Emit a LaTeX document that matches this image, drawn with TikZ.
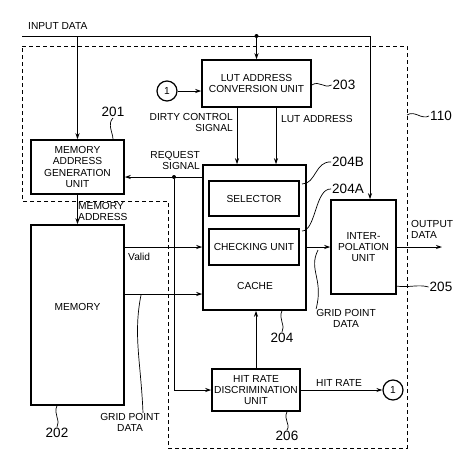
\documentclass[tikz,border=0pt]{standalone}
\usepackage{fontspec}
\setmainfont{Liberation Sans}
\usetikzlibrary{arrows.meta,positioning}

\begin{document}
\begin{tikzpicture}[
            x=1pt, y=-1pt,
            box/.style={rectangle, draw, line width=1.5pt, align=center, inner sep=1pt, font=\fontsize{10.2}{11.3}\selectfont},
            arrow/.style={-{Stealth[length=6pt,width=4pt]}, line width=1pt},
            sig/.style={font=\fontsize{10.2}{11.3}\selectfont, inner sep=0pt, align=left},
            tag/.style={font=\fontsize{13.5}{15}\selectfont, inner sep=1pt},
            leader/.style={line width=0.7pt},
            conn/.style={circle, draw, line width=1.2pt, minimum size=20pt, inner sep=0pt, font=\fontsize{10.2}{11.3}\selectfont},
            dot/.style={circle, fill, inner sep=0pt, minimum size=4pt}
            ]
            \useasboundingbox (0,0) rectangle (474,472);

            % Boundary of unit 110
            \draw[line width=1pt, dash pattern=on 4pt off 3pt] (22,46) -- (407,46) -- (407,448) -- (168,448) -- (168,201) -- (22,201) -- cycle;

            % Blocks
            \node[box, minimum width=109pt, minimum height=47pt] (lut) at (256.5,83.5) {LUT ADDRESS\\CONVERSION UNIT};
            \node[conn] (c1in) at (167,91) {1};
            \node[box, minimum width=93pt, minimum height=54pt] (mag) at (77.5,167) {MEMORY\\ADDRESS\\GENERATION\\UNIT};
            \node[box, minimum width=93pt, minimum height=180pt] (mem) at (77.5,315) {};
            \node[sig] (memtxt) at (77.5,307) {MEMORY};
            \node[box, minimum width=103pt, minimum height=145pt] (cache) at (254.5,237.5) {};
            \node[box, minimum width=90pt, minimum height=35pt] (sel) at (254,198.5) {SELECTOR};
            \node[box, minimum width=90pt, minimum height=36pt] (chk) at (254,247) {CHECKING UNIT};
            \node[sig] (cachetxt) at (255,286) {CACHE};
            \node[box, minimum width=65pt, minimum height=94pt] (interp) at (363.5,247) {INTER-\\POLATION\\UNIT};
            \node[box, minimum width=88pt, minimum height=42pt] (hit) at (256,390) {HIT RATE\\DISCRIMINATION\\UNIT};
            \node[conn] (c1out) at (393,390) {1};

            % Signal names
            \coordinate (in) at (22,36);
            \coordinate (inR) at (370,36);
            \coordinate (req) at (174,177);
            \coordinate (grid) at (124,294);
            \coordinate (out) at (442,247);
            \node[sig, anchor=base west] (intxt) at (28,29) {INPUT DATA};
            \node[sig, anchor=north east, align=right] (dirty) at (233,113) {DIRTY CONTROL\\SIGNAL};
            \node[sig, anchor=base west] (lutaddr) at (281,122) {LUT ADDRESS};
            \node[sig, anchor=north east, align=right] (reqtxt) at (200,151) {REQUEST\\SIGNAL};
            \node[sig, anchor=north west] (memaddr) at (78,202) {MEMORY\\ADDRESS};
            \node[sig, anchor=base west] (valid) at (128,260) {Valid};
            \node[sig, anchor=north west] (outtxt) at (411,220) {OUTPUT\\DATA};
            \node[sig, anchor=base west] (hittxt) at (316,386) {HIT RATE};
            \node[sig, anchor=north, align=center] (gpd1) at (346,309) {GRID POINT\\DATA};
            \node[sig, anchor=north, align=center] (gpd2) at (130,413) {GRID POINT\\DATA};

            % Arrows
            \draw[arrow] (in) -- (inR) -- (inR |- interp.north);
            \draw[arrow] (mag.north |- in) -- (mag.north);
            \node[dot] (split) at (lut.north |- in) {};
            \draw[arrow] (split) -- (lut.north);
            \draw[arrow] (c1in.east) -- (c1in.east -| lut.west);
            \draw[arrow] ([xshift=-19.5pt]lut.south) -- ([xshift=-19.5pt]lut.south |- cache.north);
            \draw[arrow] ([xshift=19.5pt]lut.south) -- ([xshift=19.5pt]lut.south |- cache.north);
            \draw[arrow] (cache.west |- req) -- (mag.east |- req);
            \node[dot] (reqdot) at (req) {};
            \draw[arrow] (reqdot) |- (hit.west);
            \draw[arrow] (mag.south) -- (mem.north);
            \draw[arrow] (mem.east |- chk) -- (cache.west |- chk);
            \draw[arrow] (grid) -- (cache.west |- grid);
            \draw[arrow] (cache.east |- chk) -- (interp.west);
            \draw[arrow] (interp.east) -- (out);
            \draw[arrow] (hit.north) -- (hit.north |- cache.south);
            \draw[arrow] (hit.east) -- (c1out.west);

            % Reference numerals
            \node[tag] (t110) at (441,116) {110};
            \node[tag] (t201) at (113,112) {201};
            \node[tag] (t202) at (57,433) {202};
            \node[tag] (t203) at (344,85) {203};
            \node[tag] (t204) at (282,338) {204};
            \node[tag] (t204b) at (348,162) {204B};
            \node[tag] (t204a) at (348,189) {204A};
            \node[tag] (t205) at (441,287) {205};
            \node[tag] (t206) at (287,436) {206};
            \coordinate (p110) at (407,115);
            \coordinate (p204b) at (302,184);
            \coordinate (p204a) at (302,231);
            \coordinate (p205) at (396,286);
            \coordinate (pgd1) at (318,250);
            \coordinate (pgd2) at (141,295);

            % Leaders
            \draw[leader] (p110) .. controls +(8,-5) and +(-8,4) .. (t110.west);
            \draw[leader] (t201.south) .. controls +(-6,6) and +(0,-6) .. (t201.south |- mag.north);
            \draw[leader] (t202.north |- mem.south) .. controls +(-4,8) and +(4,-6) .. (t202.north);
            \draw[leader] (lut.east |- t203) .. controls +(8,-5) and +(-8,4) .. (t203.west);
            \draw[leader] (t204.north |- cache.south) .. controls +(-4,8) and +(4,-6) .. (t204.north);
            \draw[leader] (p204b) .. controls +(14,0) and +(-16,-1) .. (t204b.west);
            \draw[leader] (p204a) .. controls +(14,0) and +(-16,-1) .. (t204a.west);
            \draw[leader] (p205) .. controls +(12,2) and +(-10,-3) .. (t205.west);
            \draw[leader] (t206.north |- hit.south) .. controls +(-4,8) and +(4,-6) .. (t206.north);
            \draw[leader] (pgd1) .. controls +(-10,20) and +(8,-30) .. (gpd1.north west);
            \draw[leader] (pgd2) .. controls +(-8,40) and +(-2,-50) .. ([xshift=13pt]gpd2.north);

        \end{tikzpicture}
\end{document}
